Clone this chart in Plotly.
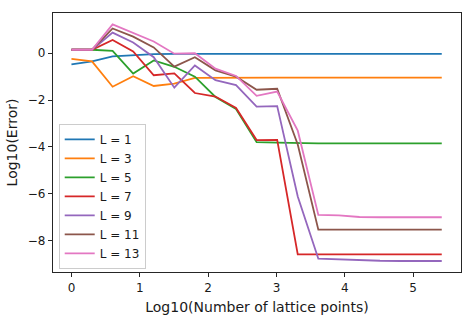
import numpy as np
import plotly.graph_objects as go

# Lattice sizes 2^k, k = 0..18, shown on a log10 axis
k = np.arange(19)
log_points = k * np.log10(2)

labels = ["L = 1", "L = 3", "L = 5", "L = 7", "L = 9", "L = 11", "L = 13"]
colors = ["#1f77b4", "#ff7f0e", "#2ca02c", "#d62728", "#9467bd", "#8c564b", "#e377c2"]

err_L1 = [-0.48, -0.35, -0.13, -0.07, -0.04, -0.03, -0.03, -0.03, -0.03, -0.03,
          -0.03, -0.03, -0.03, -0.03, -0.03, -0.03, -0.03, -0.03, -0.03]
err_L3 = [-0.24, -0.35, -1.43, -0.98, -1.40, -1.30, -1.05, -1.04, -1.04, -1.04,
          -1.04, -1.04, -1.04, -1.04, -1.04, -1.04, -1.04, -1.04, -1.04]
err_L5 = [0.15, 0.15, 0.10, -0.87, -0.31, -0.58, -1.00, -1.87, -2.38, -3.80,
          -3.82, -3.85, -3.85, -3.85, -3.85, -3.85, -3.85, -3.85, -3.85]
err_L7 = [0.15, 0.15, 0.57, 0.08, -0.94, -0.86, -1.70, -1.85, -2.34, -3.71,
          -3.70, -8.60, -8.60, -8.60, -8.60, -8.60, -8.60, -8.60, -8.60]
err_L9 = [0.15, 0.15, 0.88, 0.46, -0.17, -1.47, -0.52, -1.15, -1.36, -2.28,
          -2.26, -6.12, -8.78, -8.82, -8.86, -8.87, -8.88, -8.88, -8.88]
err_L11 = [0.15, 0.15, 1.06, 0.71, 0.25, -0.57, -0.17, -0.73, -1.00, -1.56,
           -1.52, -3.90, -7.54, -7.54, -7.54, -7.54, -7.54, -7.54, -7.54]
err_L13 = [0.15, 0.15, 1.23, 0.88, 0.50, -0.02, 0.00, -0.66, -0.97, -1.82,
           -1.64, -3.31, -6.91, -6.93, -7.00, -7.01, -7.01, -7.01, -7.01]

series = [err_L1, err_L3, err_L5, err_L7, err_L9, err_L11, err_L13]

x_ticks = [0, 1, 2, 3, 4, 5]
y_ticks = [-8, -6, -4, -2, 0]

fig = go.Figure()
for name, color, ys in zip(labels, colors, series):
    fig.add_trace(go.Scatter(x=log_points, y=ys, mode="lines", name=name,
                             line=dict(color=color, width=1.8)))

axis_style = dict(showline=True, linecolor="#262626", linewidth=1.2, mirror=True,
                  ticks="outside", ticklen=4, tickwidth=1.1, tickcolor="#262626",
                  showgrid=False, zeroline=False,
                  tickfont=dict(size=12, color="#1a1a1a"))

fig.update_layout(
    width=474, height=324,
    margin=dict(l=52, r=13, t=13, b=47),
    paper_bgcolor="white", plot_bgcolor="white",
    font=dict(family="DejaVu Sans", size=12, color="#1a1a1a"),
    xaxis=dict(range=[-0.27, 5.70], tickvals=x_ticks,
               title=dict(text="Log10(Number of lattice points)", standoff=8),
               **axis_style),
    yaxis=dict(range=[-9.35, 1.72], tickvals=y_ticks,
               title=dict(text="Log10(Error)", standoff=6),
               **axis_style),
    legend=dict(x=0.014, y=0.012, xanchor="left", yanchor="bottom",
                bgcolor="rgba(255,255,255,0.8)", bordercolor="#cccccc", borderwidth=1,
                font=dict(size=12), tracegroupgap=0, itemwidth=30),
    showlegend=True,
)

fig.write_html("out.html")
